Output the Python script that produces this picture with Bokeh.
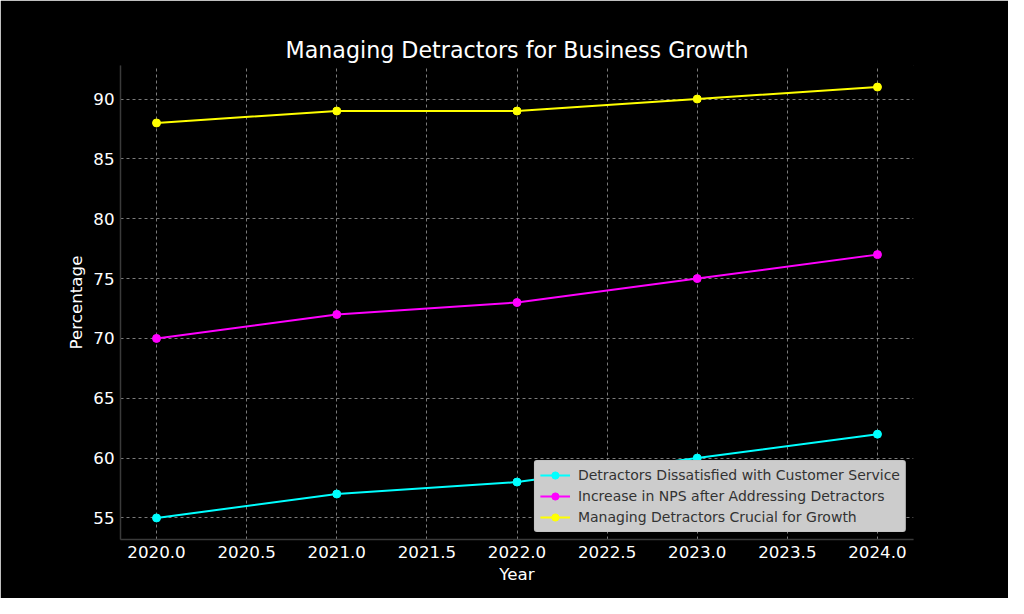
from bokeh.plotting import figure
from bokeh.models import SingleIntervalTicker, PrintfTickFormatter, Range1d, Legend, LegendItem
from bokeh.embed import file_html
from bokeh.resources import INLINE

# data
years = [2020, 2021, 2022, 2023, 2024]
dissatisfied = [55, 57, 58, 60, 62]
nps_increase = [70, 72, 73, 75, 77]
crucial = [88, 89, 89, 90, 91]

series = [
    ("Detractors Dissatisfied with Customer Service", dissatisfied, "#00ffff"),
    ("Increase in NPS after Addressing Detractors", nps_increase, "#ff00ff"),
    ("Managing Detractors Crucial for Growth", crucial, "#ffff00"),
]

FONT = "DejaVu Sans"

p = figure(width=1008, height=598, output_backend="svg", toolbar_location=None,
           x_range=Range1d(2019.8, 2024.2), y_range=Range1d(53.2, 92.8),
           min_border_left=120, min_border_right=95, min_border_top=65, min_border_bottom=59,
           x_axis_label="Year", y_axis_label="Percentage",
           outline_line_color="black")

p.background_fill_color = "black"
p.border_fill_color = "black"

p.title.text = "Managing Detractors for Business Growth"
p.title.text_color = "white"
p.title.text_font = FONT
p.title.text_font_size = "22.2px"
p.title.text_font_style = "normal"
p.title.align = "center"
p.title.standoff = 6

p.xaxis.ticker = SingleIntervalTicker(interval=0.5, num_minor_ticks=0)
p.xaxis.formatter = PrintfTickFormatter(format="%.1f")
p.yaxis.ticker = SingleIntervalTicker(interval=5, num_minor_ticks=0)

for ax in (p.xaxis[0], p.yaxis[0]):
    ax.axis_line_color = "#3a3a3a"
    ax.axis_line_width = 1.5
    ax.major_tick_line_color = None
    ax.major_tick_out = 0
    ax.major_tick_in = 0
    ax.minor_tick_line_color = None
    ax.major_label_standoff = 6
    ax.major_label_text_color = "white"
    ax.major_label_text_font = FONT
    ax.major_label_text_font_size = "16.7px"
    ax.axis_label_text_color = "white"
    ax.axis_label_text_font = FONT
    ax.axis_label_text_font_size = "16.7px"
    ax.axis_label_text_font_style = "normal"
p.xaxis.axis_label_standoff = 3
p.yaxis.axis_label_standoff = 4

p.grid.grid_line_color = "#9a9a9a"
p.grid.grid_line_dash = "3 3"
p.grid.grid_line_alpha = 0.8
p.grid.grid_line_width = 1

items = []
for name, vals, color in series:
    l = p.line(years, vals, line_color=color, line_width=2)
    c = p.scatter(years, vals, marker="circle", size=8, fill_color=color, line_color=color)
    items.append(LegendItem(label=name, renderers=[l, c]))

legend = Legend(items=items, location="bottom_right")
legend.background_fill_color = "#cccccc"
legend.background_fill_alpha = 1.0
legend.border_line_color = "#bbbbbb"
legend.border_radius = 3
legend.label_text_color = "#333333"
legend.label_text_font = FONT
legend.label_text_font_size = "14px"
legend.glyph_width = 30
legend.glyph_height = 18
legend.label_height = 18
legend.spacing = 3
legend.padding = 5
legend.margin = 7
legend.label_standoff = 8
p.add_layout(legend)

open("out.html", "w").write(file_html(p, INLINE))
